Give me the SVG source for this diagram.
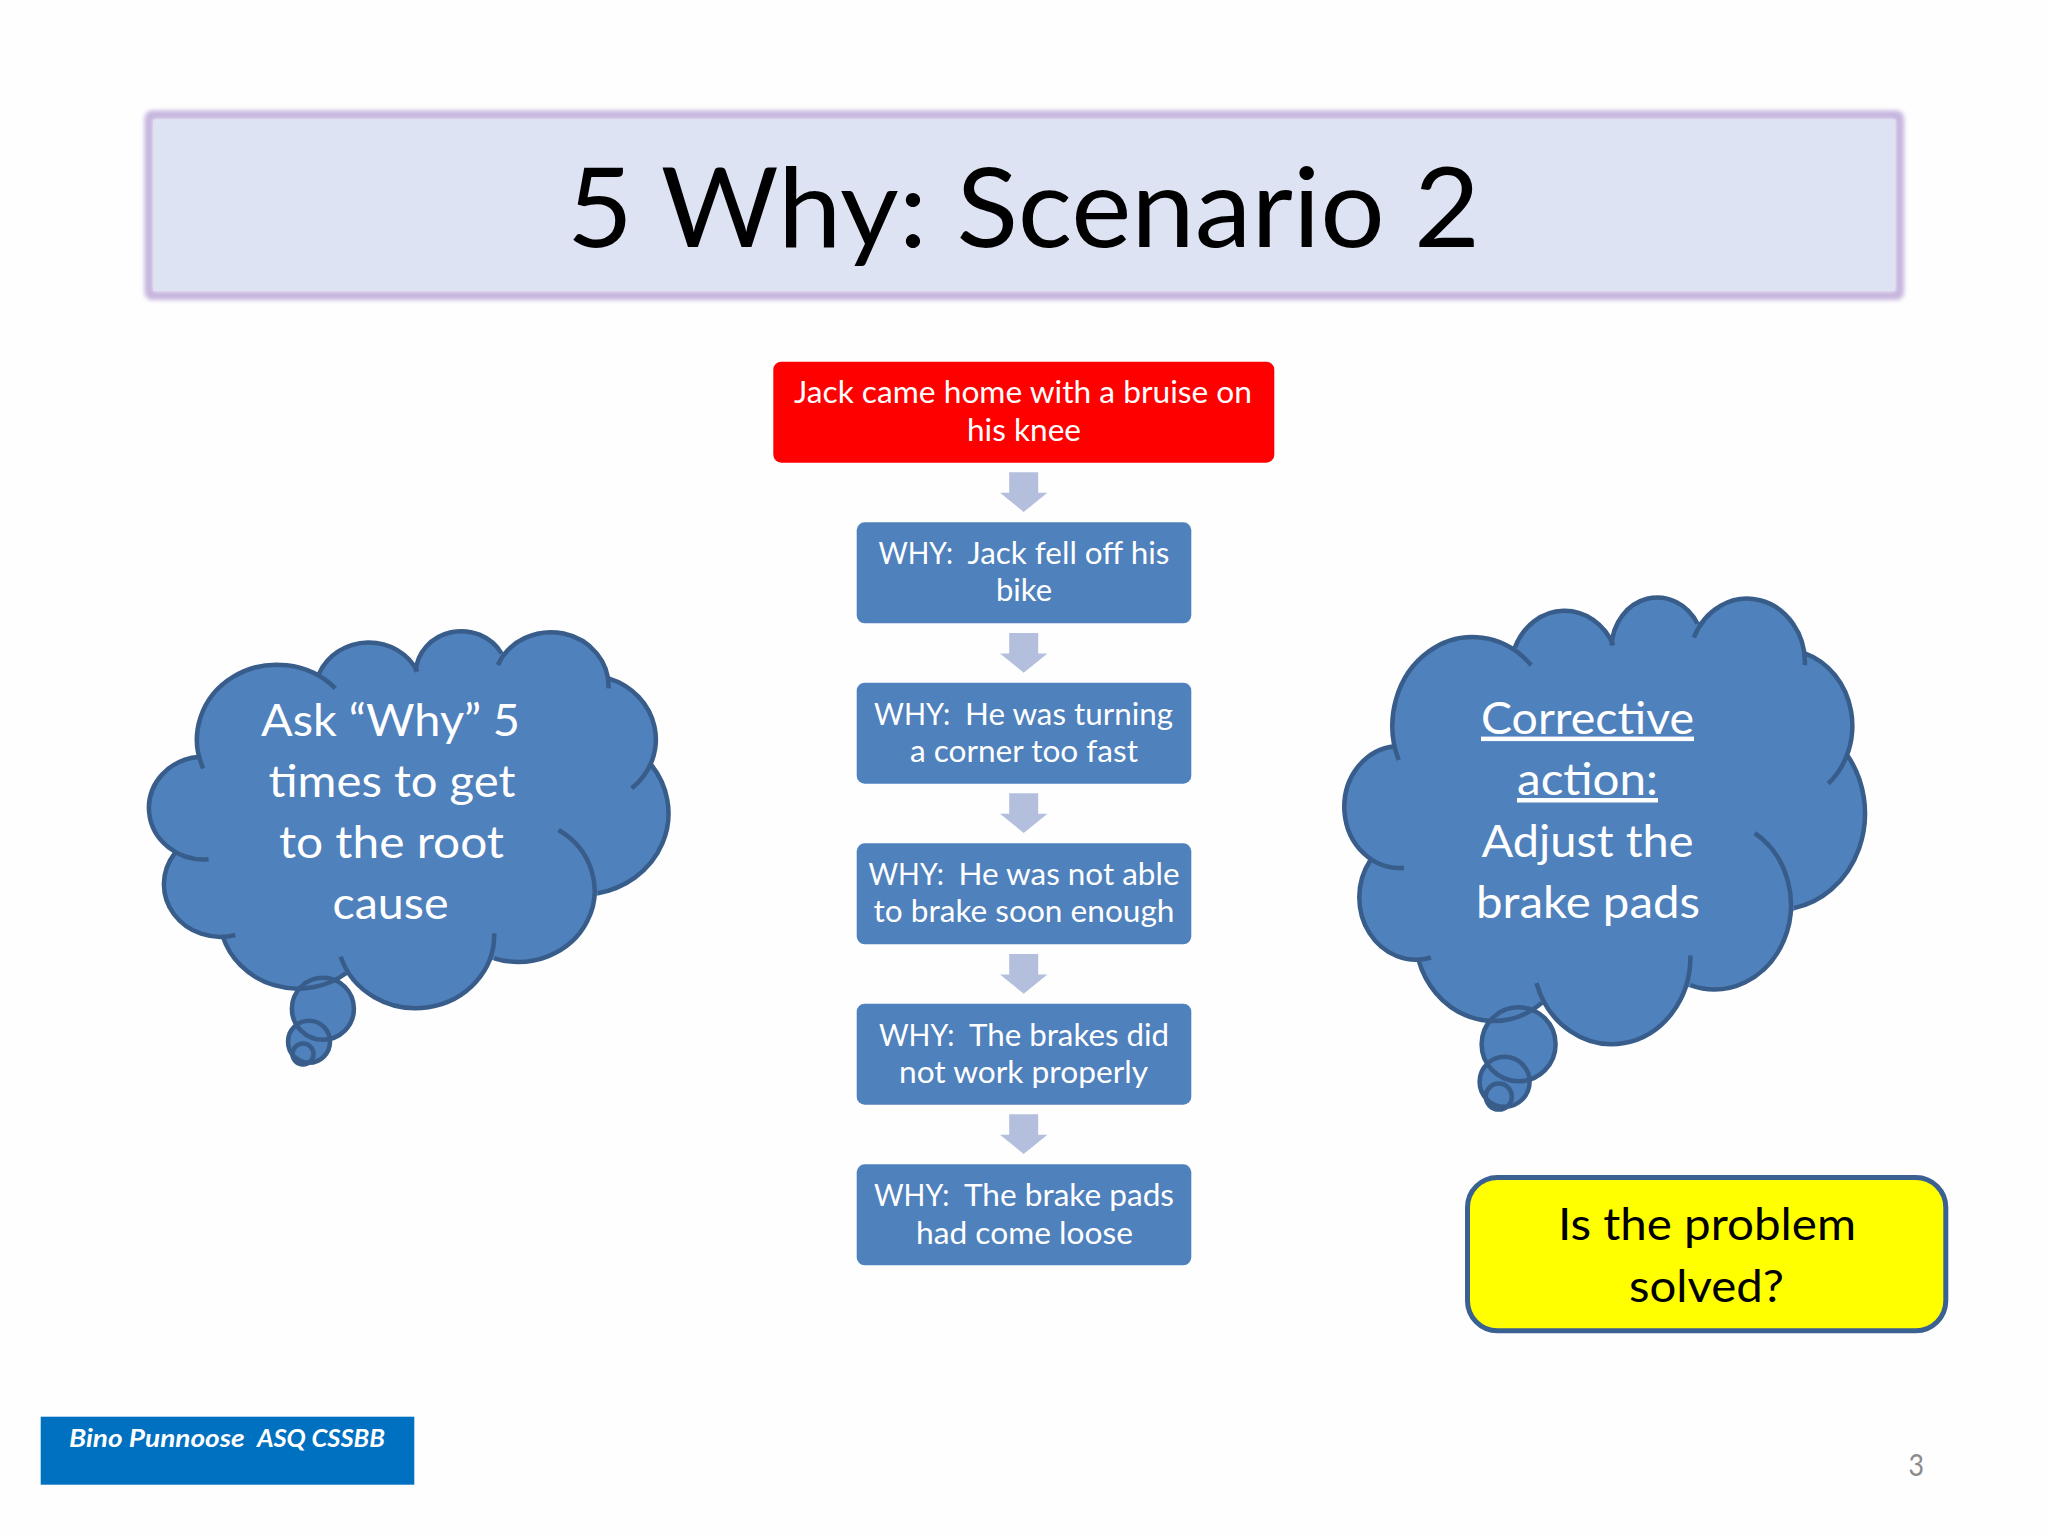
<svg xmlns="http://www.w3.org/2000/svg" width="2048" height="1536" viewBox="0 0 2048 1536">
<style>
text{font-family:Lato,"Open Sans","Liberation Sans",sans-serif;text-anchor:start;white-space:pre}
.box{fill:#4f81bd}
.w30{font-size:30px;fill:#fff}
.w45{font-size:45px;fill:#fff}
.cl{fill:#4f81bd;stroke:#385d8a;stroke-width:4.500;vector-effect:non-scaling-stroke}
.core{fill:#4f81bd;stroke:#4f81bd;stroke-width:10}
.tf{fill:#4f81bd}
.ts{fill:none;stroke:#385d8a;stroke-width:4.500}
.arrow{fill:#b3bfdd}
</style>
<defs>
<filter id="glow" x="-3%" y="-15%" width="106%" height="130%"><feGaussianBlur stdDeviation="2.200"/></filter>
<path id="cloud" class="cl" d="M205 445A224 224 0 0 1 575 205M530 160A150 150 0 0 1 805 155M800 155A128 128 0 0 1 1040 100M1030 135A161.500 161.500 0 0 1 1340 205M1340 175A193 193 0 0 1 1405 505M1460 435A244 244 0 0 1 1310 820M1200 630A214 214 0 0 1 1020 1015M1020 940A220 220 0 0 1 590 1010M605 1060A220 220 0 0 1 260 950M295 945A158 158 0 0 1 125 700M220 718A154 154 0 0 1 195 410"/>
<polygon id="cloudcore" points="195,410 530,160 805,155 1040,100 1340,175 1460,435 1310,820 1020,1015 605,1060 260,950 125,700"/>
<polygon id="arw" points="-14.500,0 14.500,0 14.500,20.400 23.700,20.400 0,39.700 -23.700,20.400 -14.500,20.400"/>
</defs>
<rect width="2048" height="1536" fill="#fefefe"/>

<g id="title">
<rect x="149" y="115" width="1750.600" height="180.500" rx="3" fill="none" stroke="#c6b5de" stroke-width="9" filter="url(#glow)"/>
<rect x="153.300" y="119.300" width="1742" height="171.700" fill="#dde3f2"/>
<text x="567" y="247.300" font-size="110" fill="#000" textLength="913" lengthAdjust="spacingAndGlyphs">5 Why: Scenario 2</text>
</g>

<g id="connectors">
<use href="#arw" class="arrow" x="1023.700" y="472.300"/>
<use href="#arw" class="arrow" x="1023.700" y="633"/>
<use href="#arw" class="arrow" x="1023.700" y="793.300"/>
<use href="#arw" class="arrow" x="1023.700" y="954"/>
<use href="#arw" class="arrow" x="1023.700" y="1114.300"/>
</g>

<g id="problem">
<rect x="773.300" y="361.700" width="501" height="101" rx="8" fill="#ff0000"/>
<text class="w30" x="794" y="403.300" textLength="458" lengthAdjust="spacingAndGlyphs">Jack came home with a bruise on</text>
<text class="w30" x="967" y="441" textLength="114" lengthAdjust="spacingAndGlyphs">his knee</text>
</g>
<g id="why1">
<rect class="box" x="856.700" y="522.300" width="334.600" height="101" rx="8"/>
<text class="w30" y="564.300"><tspan x="878.500" textLength="89" lengthAdjust="spacingAndGlyphs">WHY:  </tspan><tspan x="967.500" textLength="202" lengthAdjust="spacingAndGlyphs">Jack fell off his</tspan></text>
<text class="w30" x="996" y="601.200" textLength="56" lengthAdjust="spacingAndGlyphs">bike</text>
</g>
<g id="why2">
<rect class="box" x="856.700" y="682.700" width="334.600" height="101" rx="8"/>
<text class="w30" y="725"><tspan x="874" textLength="91" lengthAdjust="spacingAndGlyphs">WHY:  </tspan><tspan x="965" textLength="208" lengthAdjust="spacingAndGlyphs">He was turning</tspan></text>
<text class="w30" x="910" y="762.200" textLength="228" lengthAdjust="spacingAndGlyphs">a corner too fast</text>
</g>
<g id="why3">
<rect class="box" x="856.700" y="843.300" width="334.600" height="101" rx="8"/>
<text class="w30" y="885.300"><tspan x="868.500" textLength="90" lengthAdjust="spacingAndGlyphs">WHY:  </tspan><tspan x="958.500" textLength="221" lengthAdjust="spacingAndGlyphs">He was not able</tspan></text>
<text class="w30" x="873.500" y="922.200" textLength="301" lengthAdjust="spacingAndGlyphs">to brake soon enough</text>
</g>
<g id="why4">
<rect class="box" x="856.700" y="1003.700" width="334.600" height="101" rx="8"/>
<text class="w30" y="1046"><tspan x="879" textLength="90" lengthAdjust="spacingAndGlyphs">WHY:  </tspan><tspan x="969" textLength="200" lengthAdjust="spacingAndGlyphs">The brakes did</tspan></text>
<text class="w30" x="899" y="1082.800" textLength="249" lengthAdjust="spacingAndGlyphs">not work properly</text>
</g>
<g id="why5">
<rect class="box" x="856.700" y="1164.300" width="334.600" height="101" rx="8"/>
<text class="w30" y="1206.200"><tspan x="874" textLength="90" lengthAdjust="spacingAndGlyphs">WHY:  </tspan><tspan x="964" textLength="210" lengthAdjust="spacingAndGlyphs">The brake pads</tspan></text>
<text class="w30" x="916" y="1243.800" textLength="217" lengthAdjust="spacingAndGlyphs">had come loose</text>
</g>

<g id="cloud-left">
<circle class="tf" cx="322.900" cy="1008.700" r="31"/>
<circle class="tf" cx="309" cy="1041.700" r="21"/>
<g transform="translate(130 620) scale(.3571 .3333)">
<use href="#cloudcore" class="core"/>
<use href="#cloud"/>
</g>
<circle class="ts" cx="322.900" cy="1008.700" r="31"/>
<circle class="ts" cx="309" cy="1041.700" r="21"/>
<circle class="ts" cx="303" cy="1054" r="10.500"/>
<text class="w45" x="261" y="735.700" textLength="259" lengthAdjust="spacingAndGlyphs">Ask “Why” 5</text>
<text class="w45" x="268.500" y="796.700" textLength="247" lengthAdjust="spacingAndGlyphs">times to get</text>
<text class="w45" x="279" y="858.300" textLength="225" lengthAdjust="spacingAndGlyphs">to the root</text>
<text class="w45" x="332.500" y="919.300" textLength="116" lengthAdjust="spacingAndGlyphs">cause</text>
</g>

<g id="cloud-right">
<circle class="tf" cx="1518.600" cy="1044.300" r="37"/>
<circle class="tf" cx="1504.600" cy="1081.800" r="25"/>
<g transform="translate(1325.300 584.200) scale(.3579 .395)">
<use href="#cloudcore" class="core"/>
<use href="#cloud"/>
</g>
<circle class="ts" cx="1518.600" cy="1044.300" r="37"/>
<circle class="ts" cx="1504.600" cy="1081.800" r="25"/>
<circle class="ts" cx="1498.800" cy="1096.600" r="13"/>
<text class="w45" x="1481" y="733.600" textLength="213" lengthAdjust="spacingAndGlyphs" text-decoration="underline">Corrective</text>
<text class="w45" x="1517" y="795" textLength="141" lengthAdjust="spacingAndGlyphs" text-decoration="underline">action:</text>
<text class="w45" x="1481.500" y="856.800" textLength="212" lengthAdjust="spacingAndGlyphs">Adjust the</text>
<text class="w45" x="1476" y="917.500" textLength="224" lengthAdjust="spacingAndGlyphs">brake pads</text>
</g>

<g id="solved">
<rect x="1467.500" y="1177.500" width="478.300" height="153.300" rx="30" fill="#ffff00" stroke="#3b6192" stroke-width="5"/>
<text x="1558" y="1240" font-size="45" fill="#000" textLength="298" lengthAdjust="spacingAndGlyphs">Is the problem</text>
<text x="1629" y="1301.700" font-size="45" fill="#000" textLength="155" lengthAdjust="spacingAndGlyphs">solved?</text>
</g>

<g id="footer">
<rect x="40.700" y="1416.700" width="373.600" height="68" fill="#0070c0"/>
<text y="1447.300" font-size="24" font-weight="700" font-style="italic" fill="#fff"><tspan x="69" textLength="188" lengthAdjust="spacingAndGlyphs">Bino Punnoose  </tspan><tspan x="257" textLength="128" lengthAdjust="spacingAndGlyphs">ASQ CSSBB</tspan></text>
</g>
<g id="page-number">
<text x="1908.500" y="1476" font-size="30" fill="#8b8b8b" textLength="15.500" lengthAdjust="spacingAndGlyphs">3</text>
</g>
</svg>
